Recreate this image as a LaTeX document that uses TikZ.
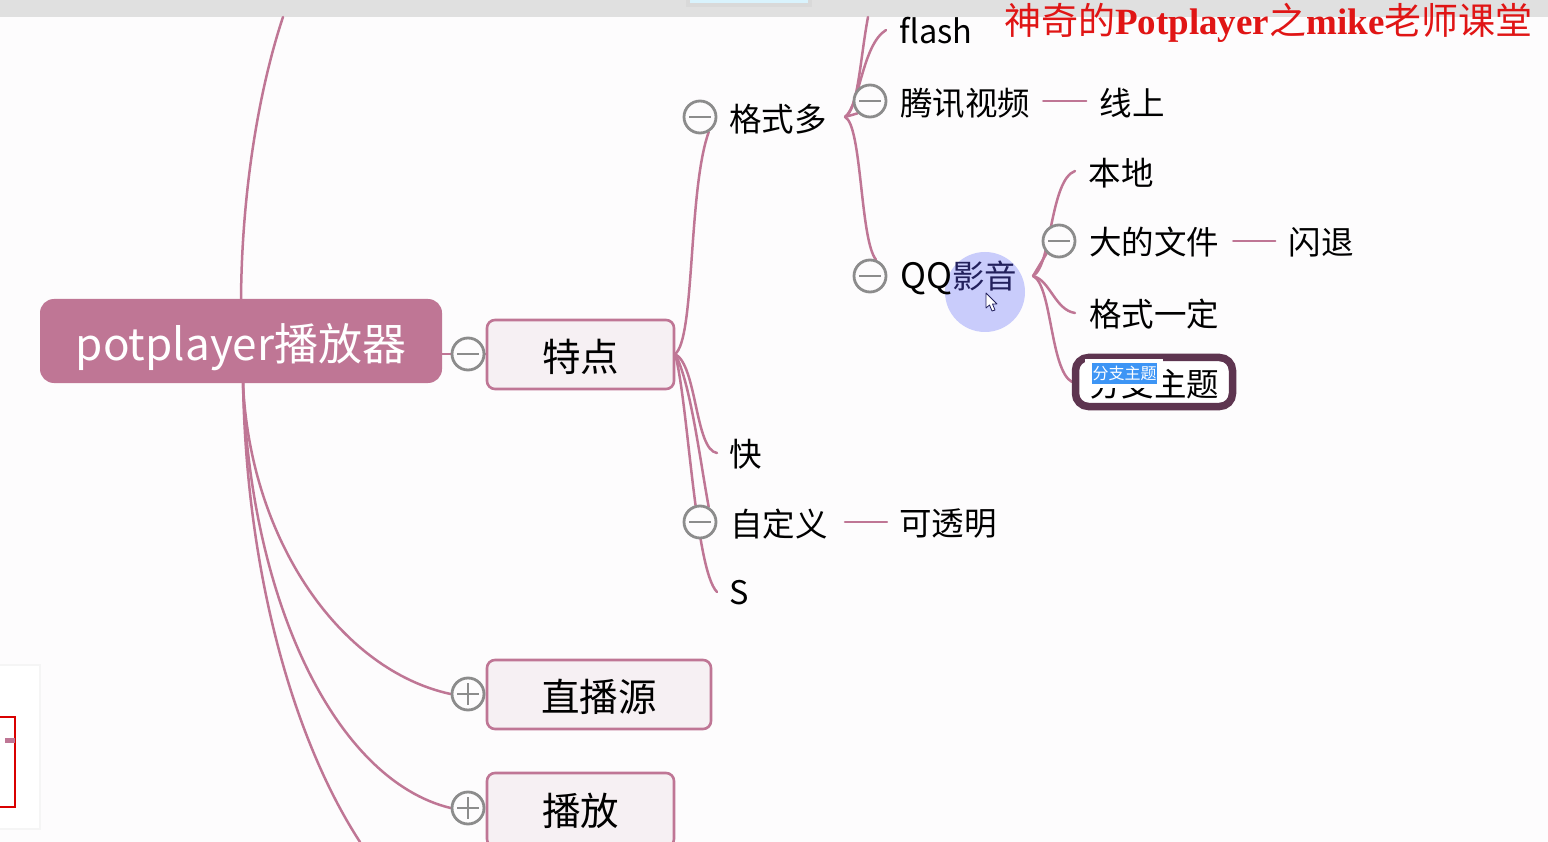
\documentclass[tikz,border=0pt]{standalone}
\usepackage{fontspec}
\setmainfont{Noto Sans CJK SC}
\newfontfamily\titlefont{Liberation Serif}[BoldFont={Liberation Serif Bold}]
\usetikzlibrary{backgrounds}
\definecolor{rosered}{HTML}{BF7695}
\definecolor{paleback}{HTML}{FDFCFD}
\definecolor{btngray}{HTML}{8C8C8C}
\definecolor{topicfill}{HTML}{F6F0F3}
\definecolor{selectbox}{HTML}{5E3550}
\definecolor{spotcolor}{HTML}{C9CCFB}
\definecolor{spotink}{HTML}{22205C}
\definecolor{selectblue}{HTML}{3D95F5}
\definecolor{titlered}{HTML}{E01515}
\tikzset{
    x=1pt,y=-1pt,
    branch/.style={draw=rosered,line width=2.5pt,line cap=round},
    rootbox/.style={fill=rosered,text=white,rounded corners=14pt,minimum width=402pt,minimum height=84pt,text height=40pt,text depth=0pt,font=\fontsize{44}{50}\selectfont},
    topicbox/.style={draw=rosered,line width=2.6pt,fill=topicfill,rounded corners=8pt,minimum height=69pt,text height=34pt,text depth=0pt,font=\fontsize{38.5}{44}\selectfont},
    leaf/.style={inner sep=0pt,font=\fontsize{32.5}{38}\selectfont},
    togglebtn/.style={circle,draw=btngray,line width=2.8pt,fill=paleback,minimum size=32pt,inner sep=0pt},
    minusbtn/.style={togglebtn,path picture={\draw[btngray,line width=2.6pt] (-11,0) -- (11,0);}},
    plusbtn/.style={togglebtn,path picture={\draw[btngray,line width=2.6pt] (-11,0) -- (11,0) (0,-11) -- (0,11);}},
}
\begin{document}
\begin{tikzpicture}
    \useasboundingbox (0,0) rectangle (1548,842);
    \clip (0,0) rectangle (1548,842);

    % boxes
    \node[rootbox] (root) at (241,341) {potplayer播放器};
    \node[topicbox,minimum width=187pt] (feature) at (580.5,354.5) {特点};
    \node[topicbox,minimum width=224pt] (live) at (599,694.5) {直播源};
    \node[topicbox,minimum width=187pt,minimum height=74pt,text height=30pt] (play) at (580.5,810) {播放};

    % highlight under the cursor
    \fill[spotcolor] (985,292) circle (40);

    % leaves
    \node[leaf] (format) at (778,119) {格式多};
    \node[leaf] (flash) at (936,31) {flash};
    \node[leaf] (tencent) at (965,103) {腾讯视频};
    \node[leaf] (online) at (1132,103) {线上};
    \node[leaf] (qq) at (959,278) {{\fontsize{35}{38}\selectfont QQ}{\color{spotink}影音}};
    \node[leaf] (local) at (1121,173) {本地};
    \node[leaf] (bigfile) at (1154,242) {大的文件};
    \node[leaf] (crash) at (1321,242) {闪退};
    \node[leaf] (fixedfmt) at (1154,314) {格式一定};
    \node[leaf] (fast) at (746,454) {快};
    \node[leaf] (custom) at (779,524) {自定义};
    \node[leaf] (clear) at (948,524) {可透明};
    \node[leaf] (sletter) at (739,593) {S};

    % selected topic
    \node[draw=selectbox,line width=7.5pt,fill=white,rounded corners=13pt,minimum width=157pt,minimum height=49pt] (subbox) at (1154,382) {};
    \node[leaf] (subtext) at (1154,384) {分支主题};
    \node[fill=white,minimum width=78pt,minimum height=29pt,inner sep=0pt] (editpatch) at (1124,373.5) {};
    \node[fill=selectblue,text=white,minimum width=65pt,minimum height=21pt,inner sep=0pt,font=\fontsize{16}{18}\selectfont] (edittext) at (1124.5,373.5) {分支主题};

    % buttons
    \foreach \btnname/\btnx/\btny in {rootbtn/468/354,fmtbtn/700/117,tenbtn/870/101,qqbtn/870/276,bigbtn/1059/241,cusbtn/700/522}
        \node[minusbtn] (\btnname) at (\btnx,\btny) {};
    \node[plusbtn] (livebtn) at (468,694) {};
    \node[plusbtn] (playbtn) at (468,808) {};

    % free ends
    \coordinate (topend) at (283,17);
    \coordinate (bottomend) at (360,842);
    \coordinate (fmtup) at (868,17);
    \coordinate (flashend) at (886,30);
    \coordinate (fmthub) at (845,117);
    \coordinate (qqhub) at (1033,276);
    \coordinate (fasthook) at (717,453);
    \coordinate (shook) at (717,592);
    \coordinate (localhook) at (1075,171);
    \coordinate (fixedhook) at (1075,313);
    \coordinate (subhook) at (1072,382);
    \coordinate (rootlow) at (243,383);
    \coordinate (feathub) at (675,354);

    \begin{scope}[on background layer]
    \clip (0,0) rectangle (1548,842);
    \fill[paleback] (0,0) rectangle (1548,842);
    \fill[black!12] (0,0) rectangle (1548,17);
    \fill[black!15] (686,0) rectangle (812,7);
    \fill[cyan!15!white] (690,0) rectangle (808,3);

    % small panel at the left
    \fill[black!4] (0,664) rectangle (41,830);
    \fill[white] (0,666) rectangle (39,828);
    \draw[red!85!black,line width=1.4pt] (-5,717) rectangle (15,807);
    \fill[rosered] (5,738) rectangle (15,743);

    % branches
    \draw[branch] (241,299) .. controls (242,180) and (262,80) .. (topend);
    \draw[branch] (rootlow) .. controls (250,540) and (340,670) .. (livebtn.west);
    \draw[branch] (rootlow) .. controls (250,600) and (335,780) .. (playbtn.west);
    \draw[branch] (rootlow) .. controls (247,590) and (300,750) .. (bottomend);
    \draw[branch] (root.east |- rootbtn) -- (rootbtn.west);
    \draw[branch] (rootbtn.east) -- (feature.west |- rootbtn);
    \draw[branch] (feathub) .. controls (695,340) and (688,190) .. (fmtbtn.-60);
    \draw[branch] (feathub) .. controls (697,365) and (695,450) .. (fasthook);
    \draw[branch] (feathub) .. controls (690,380) and (700,460) .. (cusbtn.60);
    \draw[branch] (feathub) .. controls (688,400) and (695,570) .. (shook);
    \draw[branch] (fmthub) .. controls (858,110) and (860,60) .. (fmtup);
    \draw[branch] (fmthub) .. controls (860,105) and (862,45) .. (flashend);
    \draw[branch] (fmthub) -- (tenbtn.south west);
    \draw[branch] (fmthub) .. controls (862,125) and (860,240) .. (qqbtn.70);
    \draw[branch] (tencent.east) ++(13,-2) coordinate (tenline) -- ++(43,0) coordinate (tenend);
    \draw[branch] (qqhub) .. controls (1052,265) and (1050,180) .. (localhook);
    \draw[branch] (qqhub) -- (bigbtn.south west);
    \draw[branch] (qqhub) .. controls (1050,280) and (1055,310) .. (fixedhook);
    \draw[branch] (qqhub) .. controls (1052,285) and (1050,370) .. (subhook);
    \draw[branch] (bigfile.east) ++(14,-1) coordinate (bigline) -- ++(42,0) coordinate (bigend);
    \draw[branch] (custom.east) ++(17,-2) coordinate (cusline) -- ++(42,0) coordinate (cusend);
    \end{scope}

    % cursor
    \draw[spotink,fill=white,line width=0.8pt,line join=round] (986,293) -- (986,308) -- (989.5,305) -- (992,311) -- (995,310) -- (992.5,304) -- (997,304) -- cycle;

    % caption
    \node[inner sep=0pt,anchor=west,text=titlered,font=\fontsize{37}{42}\selectfont] (caption) at (1004,23) {神奇的{\titlefont\bfseries Potplayer}之{\titlefont\bfseries mike}老师课堂};
\end{tikzpicture}
\end{document}
